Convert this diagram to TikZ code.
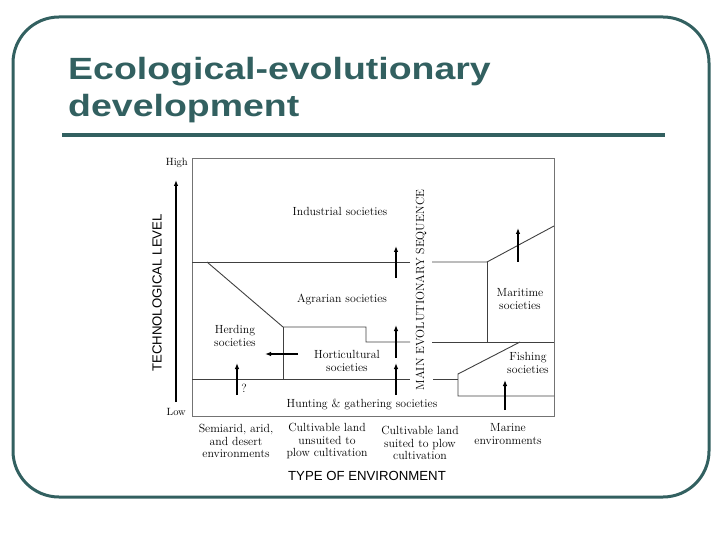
\documentclass[tikz,border=0pt]{standalone}
\usepackage{fontspec}
\newfontfamily\arialfont{Liberation Sans}
\usetikzlibrary{arrows.meta}
\definecolor{slideteal}{RGB}{50,96,96}
\begin{document}
\begin{tikzpicture}[x=1bp,y=-1bp,
  lbl/.style={font=\fontsize{11.8bp}{12.5bp}\selectfont, align=center, inner sep=0pt},
  small/.style={font=\fontsize{10.5bp}{12bp}\selectfont, inner sep=0pt},
  sanslbl/.style={font=\arialfont\fontsize{13.2bp}{14bp}\selectfont, inner sep=0pt},
  ttl/.style={font=\arialfont\bfseries\fontsize{30.7bp}{38bp}\selectfont, text=slideteal, anchor=base west, inner sep=0pt, xscale=1.22},
  dline/.style={draw=black!75, line width=0.9bp},
  boxline/.style={draw=black!55, line width=0.9bp},
  uparrow/.style={-{Latex[length=6bp,width=4.5bp]}, line width=1.1bp, draw=black}]
\useasboundingbox (0,0) rectangle (720,540);
% slide frame
\draw[slideteal, line width=3bp, rounded corners=46bp] (13,17) rectangle (709,497);
% title
\node[ttl] (t1) at (68,80) {Ecological-evolutionary};
\node[ttl] (t2) at (68,117) {development};
\draw[slideteal, line width=4bp] (62,135) -- (665,135);
% diagram box
\draw[boxline] (192,158) rectangle (554,416);
% internal lines
\draw[dline] (192,262) -- (410,262);
\draw[dline] (432,262) -- (487,262) -- (554,226);
\draw[dline] (207,262) -- (283,327) -- (366,327) -- (366,342) -- (410,342);
\draw[dline] (432,342) -- (554,342);
\draw[dline] (487,262) -- (487,342);
\draw[dline] (283,327) -- (283,379);
\draw[dline] (192,379) -- (410,379);
\draw[dline] (433,379) -- (458,379);
\draw[dline] (520,342) -- (458,374) -- (458,396) -- (554,396);
% arrows
\draw[uparrow] (396,278) -- (396,246);
\draw[uparrow] (396,358) -- (396,325);
\draw[uparrow] (396,395) -- (396,363);
\draw[uparrow] (518,262) -- (518,228);
\draw[uparrow] (505,410) -- (505,380);
\draw[uparrow] (237,395) -- (237,363);
\draw[uparrow] (298,354) -- (265,354);
\draw[uparrow] (176,402) -- (176,180);
% labels
\node[lbl] (ind) at (340,211) {Industrial societies};
\node[lbl] (agr) at (342,299) {Agrarian societies};
\node[lbl] (herd) at (235,336) {Herding\\societies};
\node[lbl] (hort) at (347,361) {Horticultural\\societies};
\node[lbl] (hunt) at (362,404) {Hunting \& gathering societies};
\node[lbl] (mar) at (520,299) {Maritime\\societies};
\node[lbl] (fish) at (528,363) {Fishing\\societies};
\node[lbl] (q) at (244,388) {?};
\node[lbl, rotate=90] (mes) at (421,290) {MAIN EVOLUTIONARY SEQUENCE};
\node[small, anchor=east] (high) at (188,163) {High};
\node[small, anchor=east] (low) at (186,412) {Low};
\node[sanslbl, rotate=90] (tech) at (157,293) {TECHNOLOGICAL LEVEL};
\node[lbl] (env1) at (236,441) {Semiarid, arid,\\and desert\\environments};
\node[lbl] (env2) at (327,441) {Cultivable land\\unsuited to\\plow cultivation};
\node[lbl] (env3) at (420,443) {Cultivable land\\suited to plow\\cultivation};
\node[lbl] (env4) at (508,434) {Marine\\environments};
\node[sanslbl] (type) at (367,476) {TYPE OF ENVIRONMENT};
\end{tikzpicture}
\end{document}
